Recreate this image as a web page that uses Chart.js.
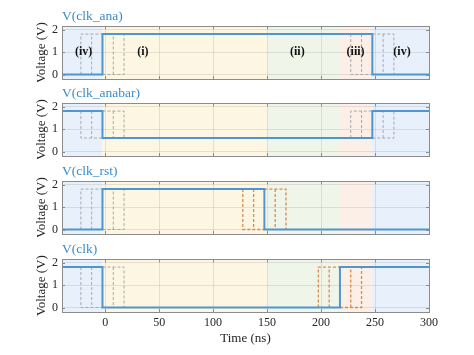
<!DOCTYPE html>
<html><head><meta charset="utf-8">
<script src="https://cdn.jsdelivr.net/npm/chart.js@4.4.0/dist/chart.umd.min.js"></script>
<style>
html,body{margin:0;padding:0;background:#fff;width:474px;height:355px;overflow:hidden;}
canvas{position:absolute;left:0;display:block;}
</style></head><body>
<canvas id="c0" width="474" height="76" style="top:6px"></canvas>
<canvas id="c1" width="474" height="76" style="top:83px"></canvas>
<canvas id="c2" width="474" height="76" style="top:161px"></canvas>
<canvas id="c3" width="474" height="116" style="top:239px"></canvas>
<script>
// ---- data ----
const timeTicks = [0, 50, 100, 150, 200, 250, 300];
const voltTicks = [0, 1, 2];
const xMin = -40, xMax = 300, yMin = -0.2, yMax = 2.15;

const panelTitles = ['V(clk_ana)', 'V(clk_anabar)', 'V(clk_rst)', 'V(clk)'];

const anaT = [-40, -2.5, 247.5, 300];
const anaV = [0, 1.8, 0, 0];
const anabarT = [-40, -2.5, 247.5, 300];
const anabarV = [1.8, 0.6, 1.8, 1.8];
const rstT = [-40, -2.5, 147.5, 300];
const rstV = [0, 1.8, 0, 0];
const clkT = [-40, -2.5, 217.5, 300];
const clkV = [1.8, 0, 1.8, 1.8];

const anaEdges = [-2.5, 247.5];
const anaEdgeKind = ['grey', 'grey'];
const anabarEdges = [-2.5, 247.5];
const anabarEdgeKind = ['grey', 'grey'];
const rstEdges = [-2.5, 147.5];
const rstEdgeKind = ['grey', 'orange'];
const clkEdges = [-2.5, 217.5];
const clkEdgeKind = ['grey', 'orange'];
const windowOuter = 20;
const windowInner = 10;

const regionStart = [-40, -2.5, 150, 217.5, 247.5];
const regionEnd = [-2.5, 150, 217.5, 247.5, 300];
const regionKind = ['iv', 'i', 'ii', 'iii', 'iv'];
const regionLabels = ['(iv)', '(i)', '(ii)', '(iii)', '(iv)'];
const regionLabelT = [-20, 35, 178, 232, 275];
const regionLabelV = [1, 1, 1, 1, 1];

// ---- styles ----
const FONT = "'Liberation Serif', 'Times New Roman', serif";
const SIGNAL_COLOR = '#4f95cf';
const TITLE_COLOR = '#3a8ccc';
const EDGE_COLORS = { grey: '#a8a8a8', orange: '#d98a4c' };
const REGION_COLORS = { iv: '#e8f1fb', i: '#fdf6e3', ii: '#eff5e9', iii: '#fcefe7' };
Chart.defaults.font.family = FONT;
Chart.defaults.color = '#262626';

function levelsAt(T, V, e) {
  const i = T.indexOf(e);
  return [V[i - 1], V[i]];
}

function windowPath(T, V, e) {
  const [a, b] = levelsAt(T, V, e);
  const o = windowOuter, n = windowInner;
  return [
    {x: e - o, y: a}, {x: e - o, y: b}, {x: e, y: b}, {x: e, y: null},
    {x: e - n, y: a}, {x: e - n, y: b}, {x: e - n, y: null},
    {x: e, y: a}, {x: e + o, y: a}, {x: e + o, y: b}, {x: e + o, y: null},
    {x: e + n, y: a}, {x: e + n, y: b}
  ];
}

const bgPlugin = {
  id: 'bg',
  beforeDraw(chart) {
    const {ctx, chartArea: ca, scales: {x}} = chart;
    ctx.save();
    regionStart.forEach((s, i) => {
      const x0 = x.getPixelForValue(s), x1 = x.getPixelForValue(regionEnd[i]);
      ctx.fillStyle = REGION_COLORS[regionKind[i]];
      ctx.fillRect(x0, ca.top, x1 - x0, ca.bottom - ca.top);
    });
    ctx.restore();
  }
};

const framePlugin = {
  id: 'frame',
  afterDraw(chart) {
    const {ctx, chartArea: ca, scales: {x, y}} = chart;
    ctx.save();
    ctx.strokeStyle = '#8c8c8c';
    ctx.lineWidth = 1;
    ctx.beginPath();
    timeTicks.forEach(t => {
      const px = Math.round(x.getPixelForValue(t)) + 0.5;
      ctx.moveTo(px, ca.bottom); ctx.lineTo(px, ca.bottom - 3);
      ctx.moveTo(px, ca.top); ctx.lineTo(px, ca.top + 3);
    });
    voltTicks.forEach(v => {
      const py = Math.round(y.getPixelForValue(v)) + 0.5;
      ctx.moveTo(ca.left, py); ctx.lineTo(ca.left + 3, py);
      ctx.moveTo(ca.right, py); ctx.lineTo(ca.right - 3, py);
    });
    ctx.stroke();
    ctx.strokeRect(Math.round(ca.left) + 0.5, Math.round(ca.top) + 0.5,
      Math.round(ca.right - ca.left), Math.round(ca.bottom - ca.top));
    ctx.restore();
  }
};

const labelPlugin = {
  id: 'regionLabels',
  afterDatasetsDraw(chart, args, opts) {
    if (!opts.show) return;
    const {ctx, scales: {x, y}} = chart;
    ctx.save();
    ctx.font = 'bold 12px ' + FONT;
    ctx.fillStyle = '#111';
    ctx.textAlign = 'center';
    ctx.textBaseline = 'middle';
    regionLabels.forEach((s, i) => {
      ctx.fillText(s, x.getPixelForValue(regionLabelT[i]), y.getPixelForValue(regionLabelV[i]));
    });
    ctx.restore();
  }
};

function makePanel(id, title, T, V, edges, kinds, showX, showLabels) {
  const datasets = [{
    data: T.map((t, i) => ({x: t, y: V[i]})),
    stepped: true,
    borderColor: SIGNAL_COLOR,
    borderWidth: 2,
    pointRadius: 0
  }];
  edges.forEach((e, i) => {
    datasets.push({
      data: windowPath(T, V, e),
      borderColor: EDGE_COLORS[kinds[i]],
      borderWidth: kinds[i] === 'orange' ? 1.3 : 1,
      borderDash: [3, 2],
      pointRadius: 0,
      spanGaps: false
    });
  });
  const xTitleH = 34;
  new Chart(document.getElementById(id), {
    type: 'line',
    data: {datasets},
    plugins: [bgPlugin, framePlugin, labelPlugin],
    options: {
      responsive: false,
      animation: false,
      events: [],
      layout: {padding: {top: 0, left: 30, right: 45, bottom: showX ? 9 : 3}},
      plugins: {
        legend: {display: false},
        tooltip: {enabled: false},
        regionLabels: {show: showLabels},
        title: {
          display: true, text: title, align: 'start', fullSize: false,
          color: TITLE_COLOR, font: {size: 13.5, weight: 'normal', family: FONT},
          padding: {top: 2, bottom: 2}
        }
      },
      scales: {
        x: {
          type: 'linear', min: xMin, max: xMax,
          afterBuildTicks: s => { s.ticks = timeTicks.map(v => ({value: v})); },
          afterFit: s => { s.height = showX ? xTitleH : 0; s.paddingLeft = 0; s.paddingRight = 0; },
          grid: {color: 'rgba(0,0,0,0.09)', drawTicks: false},
          border: {display: false},
          ticks: {display: showX, font: {size: 12}, padding: 4, maxRotation: 0},
          title: {display: showX, text: 'Time (ns)', font: {size: 13}, padding: {top: 0, bottom: 0}}
        },
        y: {
          type: 'linear', min: yMin, max: yMax,
          afterBuildTicks: s => { s.ticks = voltTicks.map(v => ({value: v})); },
          afterFit: s => { s.width = 32; s.paddingTop = 0; s.paddingBottom = 0; },
          grid: {color: 'rgba(0,0,0,0.09)', drawTicks: false},
          border: {display: false},
          ticks: {font: {size: 12}, padding: 4},
          title: {display: true, text: 'Voltage (V)', font: {size: 13}, padding: {top: 4, bottom: 0}}
        }
      }
    }
  });
}

makePanel('c0', panelTitles[0], anaT, anaV, anaEdges, anaEdgeKind, false, true);
makePanel('c1', panelTitles[1], anabarT, anabarV, anabarEdges, anabarEdgeKind, false, false);
makePanel('c2', panelTitles[2], rstT, rstV, rstEdges, rstEdgeKind, false, false);
makePanel('c3', panelTitles[3], clkT, clkV, clkEdges, clkEdgeKind, true, false);
</script>
</body></html>
